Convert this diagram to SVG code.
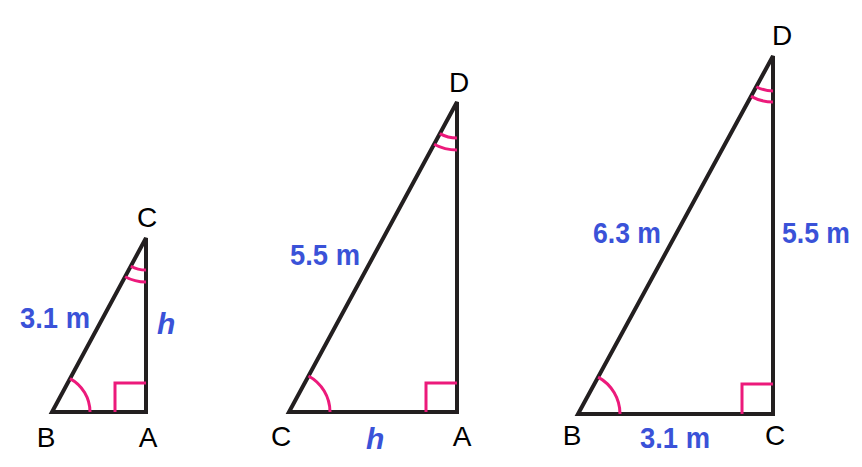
<svg xmlns="http://www.w3.org/2000/svg" width="862" height="467" viewBox="0 0 862 467">
<style>
.tri{fill:none;stroke:#231f20;stroke-width:4;stroke-linejoin:miter}
.mk{fill:none;stroke:#ec1a7b;stroke-width:3}
.lb{font-family:"Liberation Sans",Arial,sans-serif;font-size:28px;fill:#000;text-anchor:middle}
.ms{font-family:"Liberation Sans",Arial,sans-serif;font-size:30px;font-weight:bold;fill:#3a52d8}
.it{font-style:italic}
</style>
<rect width="862" height="467" fill="#fff"/>
<g id="connectors">
<polygon class="tri" points="52,412 146,412 146,238"/>
<polygon class="tri" points="289,412 457,412 457,102"/>
<polygon class="tri" points="578,414 773,414 773,56"/>
</g>
<g id="tri1">
<path class="mk" d="M115,412 V383 H146"/>
<path class="mk" d="M90,412 A38,38 0 0 0 70,378.6"/>
<path class="mk" d="M146,270 A32,32 0 0 1 130.8,266.2"/>
<path class="mk" d="M146,282 A44,44 0 0 1 125.1,276.7"/>
<text class="lb" x="147" y="227">C</text>
<text class="lb" x="46" y="447">B</text>
<text class="lb" x="148" y="447">A</text>
<text class="ms" x="20" y="328" textLength="70" lengthAdjust="spacingAndGlyphs">3.1 m</text>
<text class="ms it" x="157" y="334">h</text>
</g>
<g id="tri2">
<path class="mk" d="M426,412 V383 H457"/>
<path class="mk" d="M330,412 A41,41 0 0 0 308.5,376"/>
<path class="mk" d="M457,138 A36,36 0 0 1 439.8,133.6"/>
<path class="mk" d="M457,150 A48,48 0 0 1 434.1,144.2"/>
<text class="lb" x="459" y="92">D</text>
<text class="lb" x="281" y="446">C</text>
<text class="lb" x="462" y="446">A</text>
<text class="ms it" x="366" y="449">h</text>
<text class="ms" x="290" y="265" textLength="70" lengthAdjust="spacingAndGlyphs">5.5 m</text>
</g>
<g id="tri3">
<path class="mk" d="M742,414 V384 H773"/>
<path class="mk" d="M620,414 A42,42 0 0 0 598.1,377.1"/>
<path class="mk" d="M773,91 A35,35 0 0 1 756.3,86.7"/>
<path class="mk" d="M773,102 A46,46 0 0 1 751,96.4"/>
<text class="lb" x="782" y="45">D</text>
<text class="lb" x="572" y="445">B</text>
<text class="lb" x="775" y="445">C</text>
<text class="ms" x="640" y="448" textLength="70" lengthAdjust="spacingAndGlyphs">3.1 m</text>
<text class="ms" x="593" y="243" textLength="68" lengthAdjust="spacingAndGlyphs">6.3 m</text>
<text class="ms" x="782" y="243" textLength="68" lengthAdjust="spacingAndGlyphs">5.5 m</text>
</g>
</svg>
